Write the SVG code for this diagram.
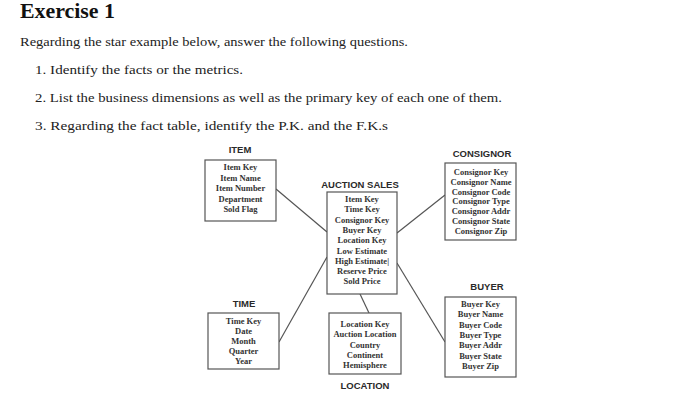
<svg xmlns="http://www.w3.org/2000/svg" width="700" height="416" viewBox="0 0 700 416">
<style>
.h{font-family:"Liberation Serif","DejaVu Serif",serif;font-weight:bold;font-size:20px;fill:#111}
.p{font-family:"Liberation Serif","DejaVu Serif",serif;font-size:13px;fill:#222}
.lbl{font-family:"Liberation Sans",Arial,sans-serif;font-weight:bold;font-size:9.5px;fill:#2a2a2a;text-anchor:middle}
.f{font-family:"Liberation Serif","DejaVu Serif",serif;font-weight:bold;font-size:8.5px;fill:#333;text-anchor:middle}
.box{fill:#fff;stroke:#555;stroke-width:1.2}
.c{stroke:#555;stroke-width:1.2;fill:none}
</style>
<rect width="700" height="416" fill="#fff"/>
<g id="header">
<text class="h" x="20" y="18" textLength="95" lengthAdjust="spacingAndGlyphs">Exercise 1</text>
<text class="p" x="20" y="46" textLength="388" lengthAdjust="spacingAndGlyphs">Regarding the star example below, answer the following questions.</text>
<text class="p" x="35" y="74" textLength="208" lengthAdjust="spacingAndGlyphs">1. Identify the facts or the metrics.</text>
<text class="p" x="35" y="102" textLength="467" lengthAdjust="spacingAndGlyphs">2. List the business dimensions as well as the primary key of each one of them.</text>
<text class="p" x="35" y="130" textLength="353" lengthAdjust="spacingAndGlyphs">3. Regarding the fact table, identify the P.K. and the F.K.s</text>
</g>
<g id="connectors">
<line class="c" x1="276" y1="189" x2="327" y2="232"/>
<line class="c" x1="279" y1="342" x2="327" y2="257"/>
<line class="c" x1="397" y1="233" x2="445" y2="195"/>
<line class="c" x1="397" y1="263" x2="445" y2="342"/>
<line class="c" x1="360" y1="294" x2="369" y2="313"/>
</g>
<g id="item">
<text class="lbl" x="240" y="152.5">ITEM</text>
<rect class="box" x="205" y="160" width="71" height="61"/>
<text class="f" x="240.5" y="170">Item Key</text>
<text class="f" x="240.5" y="180.5">Item Name</text>
<text class="f" x="240.5" y="191">Item Number</text>
<text class="f" x="240.5" y="201.5">Department</text>
<text class="f" x="240.5" y="212">Sold Flag</text>
</g>
<g id="auction-sales">
<text class="lbl" x="360" y="187.5">AUCTION SALES</text>
<rect class="box" x="327" y="192" width="70" height="102"/>
<text class="f" x="362" y="202">Item Key</text>
<text class="f" x="362" y="212.3">Time Key</text>
<text class="f" x="362" y="222.6">Consignor Key</text>
<text class="f" x="362" y="232.9">Buyer Key</text>
<text class="f" x="362" y="243.2">Location Key</text>
<text class="f" x="362" y="253.5">Low Estimate</text>
<text class="f" x="362" y="263.8">High Estimate|</text>
<text class="f" x="362" y="274.1">Reserve Price</text>
<text class="f" x="362" y="284.4">Sold Price</text>
</g>
<g id="consignor">
<text class="lbl" x="482" y="156.5">CONSIGNOR</text>
<rect class="box" x="445" y="163" width="71" height="77"/>
<text class="f" x="481" y="175">Consignor Key</text>
<text class="f" x="481" y="184.8">Consignor Name</text>
<text class="f" x="481" y="194.6">Consignor Code</text>
<text class="f" x="481" y="204.4">Consignor Type</text>
<text class="f" x="481" y="214.2">Consignor Addr</text>
<text class="f" x="481" y="224">Consignor State</text>
<text class="f" x="481" y="233.8">Consignor Zip</text>
</g>
<g id="buyer">
<text class="lbl" x="487" y="289.5">BUYER</text>
<rect class="box" x="445" y="297" width="71" height="80"/>
<text class="f" x="480.5" y="307">Buyer Key</text>
<text class="f" x="480.5" y="317.3">Buyer Name</text>
<text class="f" x="480.5" y="327.6">Buyer Code</text>
<text class="f" x="480.5" y="337.9">Buyer Type</text>
<text class="f" x="480.5" y="348.2">Buyer Addr</text>
<text class="f" x="480.5" y="358.5">Buyer State</text>
<text class="f" x="480.5" y="368.8">Buyer Zip</text>
</g>
<g id="time">
<text class="lbl" x="244" y="306.5">TIME</text>
<rect class="box" x="208" y="313" width="71" height="56"/>
<text class="f" x="243.5" y="324">Time Key</text>
<text class="f" x="243.5" y="334">Date</text>
<text class="f" x="243.5" y="344">Month</text>
<text class="f" x="243.5" y="354">Quarter</text>
<text class="f" x="243.5" y="364">Year</text>
</g>
<g id="location">
<rect class="box" x="329" y="313" width="72" height="61"/>
<text class="f" x="365" y="327">Location Key</text>
<text class="f" x="365" y="337.3">Auction Location</text>
<text class="f" x="365" y="347.6">Country</text>
<text class="f" x="365" y="357.9">Continent</text>
<text class="f" x="365" y="368.2">Hemisphere</text>
<text class="lbl" x="365" y="388.5">LOCATION</text>
</g>
</svg>
